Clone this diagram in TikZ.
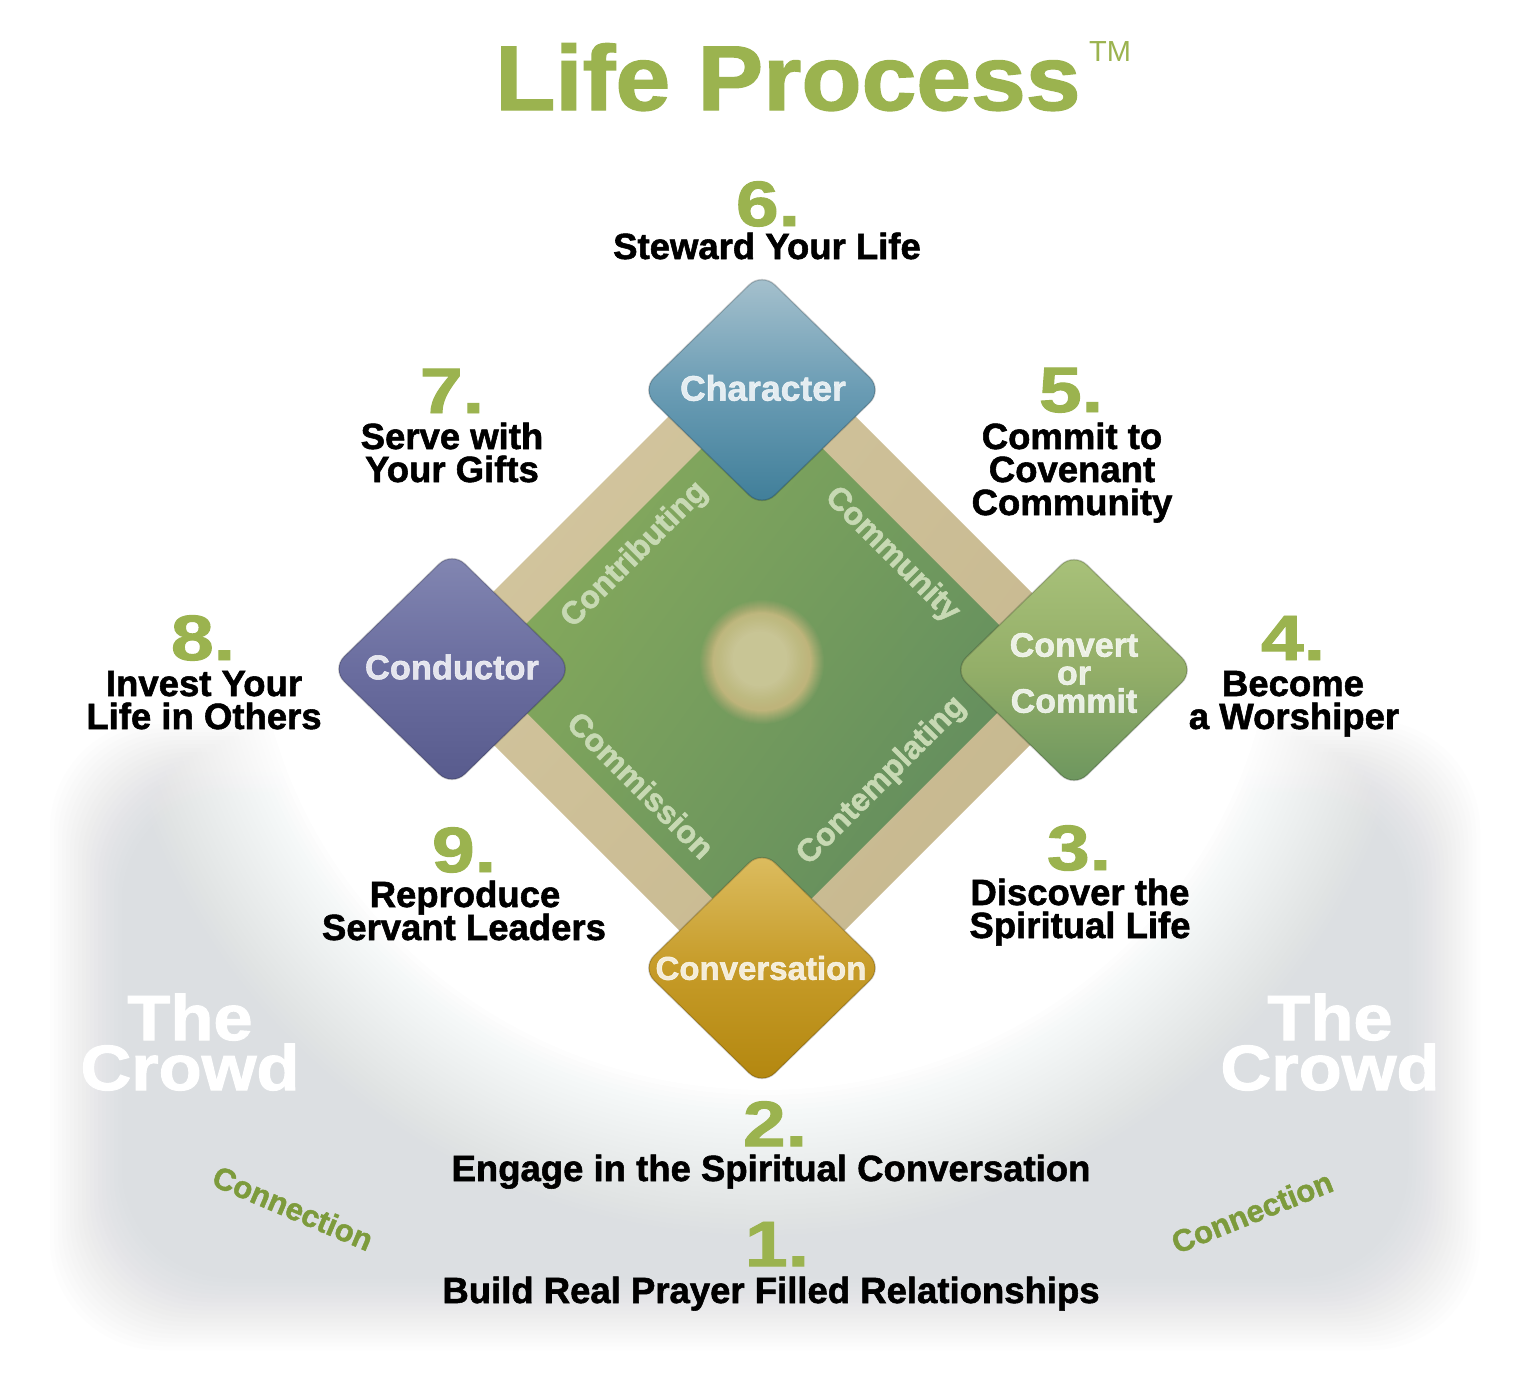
\documentclass[tikz,border=0pt]{standalone}
\usepackage{fontspec}
\setmainfont{Liberation Sans}[BoldFeatures={FakeBold=1.5}]
\usetikzlibrary{shapes.geometric,shadings}
\definecolor{lpgreen}{HTML}{9BB34F}
\definecolor{connect}{HTML}{7D9B3C}
\definecolor{crowdgray}{HTML}{DCDFE2}
\definecolor{edgetext}{HTML}{C7D9B3}
\definecolor{glowtan}{HTML}{C6B77F}
\definecolor{glowlite}{HTML}{CCCB9C}
\definecolor{tanA}{HTML}{D6C9A2}
\definecolor{tanB}{HTML}{CBBD95}
\definecolor{tanC}{HTML}{CDBF97}
\definecolor{tanD}{HTML}{C4B58B}
\definecolor{grA}{HTML}{8FB05C}
\definecolor{grB}{HTML}{6F9A5E}
\definecolor{grC}{HTML}{78A05C}
\definecolor{grD}{HTML}{5A845E}
\definecolor{chT}{HTML}{A8C2CE}
\definecolor{chM}{HTML}{6A9CB4}
\definecolor{chB}{HTML}{3E7D98}
\definecolor{coT}{HTML}{8387B2}
\definecolor{coM}{HTML}{6A6D9F}
\definecolor{coB}{HTML}{575A8C}
\definecolor{cvT}{HTML}{A9C27A}
\definecolor{cvM}{HTML}{93AE68}
\definecolor{cvB}{HTML}{6B955E}
\definecolor{csT}{HTML}{DDBE62}
\definecolor{csM}{HTML}{C69B28}
\definecolor{csB}{HTML}{B2860E}
\tikzset{
  gem/.style={diamond, aspect=1, minimum width=242pt, minimum height=236pt, inner sep=0pt,
    rounded corners=18pt, draw=black, draw opacity=0.18, line width=1.5pt},
  gemlabel/.style={font=\bfseries\fontsize{#1}{28}\selectfont, align=center, inner sep=0pt, text=white, opacity=0.82},
  numlabel/.style={font=\bfseries\fontsize{64}{64}\selectfont, text=lpgreen, anchor=base, inner sep=0pt, xscale=1.2},
  steplabel/.style={font=\bfseries\fontsize{36.5}{33}\selectfont, text=black, anchor=base, inner sep=0pt},
  edgelabel/.style={font=\bfseries\fontsize{32}{32}\selectfont, text=edgetext, inner sep=0pt},
  crowdlabel/.style={font=\bfseries\fontsize{64}{50}\selectfont, text=white, anchor=base, inner sep=0pt, xscale=1.1},
  connlabel/.style={font=\bfseries\fontsize{31}{31}\selectfont, text=connect, inner sep=0pt},
}
\begin{document}
\begin{tikzpicture}[x=1pt,y=-1pt]
\useasboundingbox (0,0) rectangle (1530,1377);
\fill[white] (0,0) rectangle (1530,1377);
% soft gray crowd area (linear soft edge)
\foreach \i [evaluate=\i as \op using {1/(20-\i)}] in {0,...,19}{
  \fill[crowdgray, opacity=\op, rounded corners=110pt] ({50+\i*4},{720+\i*4}) rectangle ({1480-\i*4},{1350-\i*4});
}
% white dome (linear soft edge)
\foreach \i [evaluate=\i as \op using {1/(30-\i)}] in {0,...,29}{
  \fill[white, opacity=\op] (765,600) ellipse [x radius={(655-\i*5)*1pt}, y radius={(635-\i*5)*1pt}];
}
% tan band and green field
\shade[upper left=tanA, upper right=tanB, lower left=tanC, lower right=tanD]
  (762,323) -- (1107,668) -- (762,1013) -- (417,668) -- cycle;
\shade[upper left=grA, upper right=grB, lower left=grC, lower right=grD]
  (762,388) -- (1042,668) -- (762,948) -- (482,668) -- cycle;
% centre glow
\foreach \i [evaluate=\i as \op using {1-(1-\i*0.92/14)/(1-(\i-1)*0.92/14)}] in {1,...,14}{
  \fill[glowtan, opacity=\op] (762,662) circle [radius={(63-\i*1)*1pt}];
}
\foreach \i [evaluate=\i as \op using {1-(1-\i*0.85/16)/(1-(\i-1)*0.85/16)}] in {1,...,16}{
  \fill[glowlite, opacity=\op] (760,659) circle [radius={(50-\i*1.4)*1pt}];
}
% edge words
\node[edgelabel, rotate=45] (contrib) at (635,555) {Contributing};
\node[edgelabel, rotate=-45] (commun) at (892,555) {Community};
\node[edgelabel, rotate=-45] (commis) at (641,785) {Commission};
\node[edgelabel, rotate=45] (contem) at (882,781) {Contemplating};
% diamonds
\node[gem, top color=chT, bottom color=chB, middle color=chM] (dchar) at (762,390) {};
\node[gemlabel=35.5] (tchar) at (763,388) {Character};
\node[gem, top color=coT, bottom color=coB, middle color=coM] (dcond) at (452,669) {};
\node[gemlabel=34.4] (tcond) at (452,667) {Conductor};
\node[gem, top color=cvT, bottom color=cvB, middle color=cvM] (dconv) at (1074,670) {};
\node[gemlabel=34] (tconv) at (1074,673) {Convert\\or\\Commit};
\node[gem, top color=csT, bottom color=csB, middle color=csM] (dcons) at (762,968) {};
\node[gemlabel=33] (tcons) at (761,968) {Conversation};
% title
\node[font=\bfseries\fontsize{92}{92}\selectfont, text=lpgreen, anchor=base west, inner sep=0pt, xscale=1.07] (title) at (495,110) {Life Process};
\node[font=\fontsize{29}{29}\selectfont, text=lpgreen, anchor=north west, inner sep=0pt] (tm) at (1089,41) {TM};
% steps
\node[numlabel] (n6) at (768,226) {6.};
\node[steplabel] (s6) at (767,259) {Steward Your Life};
\node[numlabel] (n7) at (452,413) {7.};
\node[steplabel] (s7a) at (452,449) {Serve with};
\node[steplabel] (s7b) at (452,482) {Your Gifts};
\node[numlabel] (n5) at (1071,412) {5.};
\node[steplabel] (s5a) at (1072,449) {Commit to};
\node[steplabel] (s5b) at (1072,482) {Covenant};
\node[steplabel] (s5c) at (1072,515) {Community};
\node[numlabel] (n8) at (203,660) {8.};
\node[steplabel] (s8a) at (204,696) {Invest Your};
\node[steplabel] (s8b) at (204,729) {Life in Others};
\node[numlabel] (n4) at (1293,660) {4.};
\node[steplabel] (s4a) at (1293,696) {Become};
\node[steplabel] (s4b) at (1294,729) {a Worshiper};
\node[numlabel] (n9) at (464,872) {9.};
\node[steplabel] (s9a) at (465,907) {Reproduce};
\node[steplabel] (s9b) at (464,940) {Servant Leaders};
\node[numlabel] (n3) at (1079,870) {3.};
\node[steplabel] (s3a) at (1080,905) {Discover the};
\node[steplabel] (s3b) at (1080,938) {Spiritual Life};
\node[numlabel] (n2) at (775,1146) {2.};
\node[steplabel] (s2) at (771,1181) {Engage in the Spiritual Conversation};
\node[numlabel] (n1) at (777,1266) {1.};
\node[steplabel] (s1) at (771,1303) {Build Real Prayer Filled Relationships};
% crowd
\node[crowdlabel] (lthe) at (190,1040) {The};
\node[crowdlabel] (lcrowd) at (190,1090) {Crowd};
\node[crowdlabel] (rthe) at (1330,1040) {The};
\node[crowdlabel] (rcrowd) at (1330,1090) {Crowd};
\node[connlabel, rotate=-23] (lconn) at (293,1208) {Connection};
\node[connlabel, rotate=22] (rconn) at (1252,1212) {Connection};
\end{tikzpicture}
\end{document}
